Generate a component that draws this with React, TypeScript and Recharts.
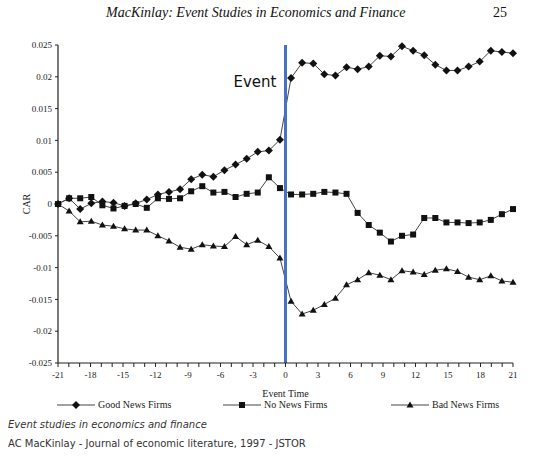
import { Line, LineChart, ReferenceLine, XAxis, YAxis } from "recharts";

// event days -21 .. 20 (CAR cumulated from zero)
const eventDays = [
  -21, -20, -19, -18, -17, -16, -15, -14, -13, -12, -11, -10, -9, -8, -7, -6, -5, -4, -3, -2, -1,
  0, 1, 2, 3, 4, 5, 6, 7, 8, 9, 10, 11, 12, 13, 14, 15, 16, 17, 18, 19, 20,
];

const goodNews = [
  0, 0.0009, -0.0008, 0.0001, 0.0004, 0.0002, -0.0003, 0.0001, 0.0007, 0.0015, 0.0019, 0.0023,
  0.0039, 0.0046, 0.0043, 0.0053, 0.0062, 0.0071, 0.0082, 0.0084, 0.0101,
  0.0198, 0.0222, 0.0221, 0.0204, 0.0202, 0.0215, 0.0212, 0.0216, 0.0233, 0.0232, 0.0248,
  0.0241, 0.0234, 0.0219, 0.021, 0.021, 0.0216, 0.0224, 0.0241, 0.0239, 0.0237,
];

const noNews = [
  0, 0.0009, 0.0009, 0.0011, -0.0002, -0.0007, -0.0003, 0.0, -0.0006, 0.0009, 0.0008, 0.0009,
  0.002, 0.0028, 0.0018, 0.0019, 0.0011, 0.0016, 0.0018, 0.0042, 0.0025,
  0.0015, 0.0015, 0.0016, 0.0019, 0.0018, 0.0016, -0.0014, -0.0033, -0.0045, -0.0059, -0.005,
  -0.0048, -0.0022, -0.0022, -0.0029, -0.0029, -0.003, -0.0029, -0.0025, -0.0016, -0.0008,
];

const badNews = [
  0, -0.0011, -0.0028, -0.0027, -0.0033, -0.0035, -0.0039, -0.0041, -0.0041, -0.005, -0.0058,
  -0.0068, -0.0071, -0.0064, -0.0066, -0.0067, -0.0051, -0.0064, -0.0057, -0.0067, -0.0085,
  -0.0153, -0.0173, -0.0167, -0.0158, -0.0148, -0.0127, -0.0119, -0.0108, -0.0112, -0.0119,
  -0.0105, -0.0107, -0.0111, -0.0104, -0.0102, -0.0106, -0.0115, -0.0119, -0.0113, -0.0121,
  -0.0123,
];

const xTicks = [
  -21, -20, -19, -18, -17, -16, -15, -14, -13, -12, -11, -10, -9, -8, -7, -6, -5, -4, -3, -2, -1,
  0, 1, 2, 3, 4, 5, 6, 7, 8, 9, 10, 11, 12, 13, 14, 15, 16, 17, 18, 19, 20, 21,
];
const yTicks = [
  0.025, 0.02, 0.015, 0.01, 0.005, 0, -0.005, -0.01, -0.015, -0.02, -0.025,
];

const data = eventDays.map((t, i) => ({
  t,
  good: goodNews[i],
  none: noNews[i],
  bad: badNews[i],
}));

const SERIF = "'Liberation Serif', 'DejaVu Serif', serif";
const SANS = "'DejaVu Sans', sans-serif";
const INK = "#1a1a1a";

const diamond = (p: any) => (
  <path
    key={`g-${p.index}`}
    d={`M${p.cx},${p.cy - 4}L${p.cx + 4},${p.cy}L${p.cx},${p.cy + 4}L${p.cx - 4},${p.cy}Z`}
    fill="#111"
  />
);
const square = (p: any) => (
  <rect key={`n-${p.index}`} x={p.cx - 3} y={p.cy - 3} width={6} height={6} fill="#111" />
);
const triangle = (p: any) => (
  <path
    key={`b-${p.index}`}
    d={`M${p.cx},${p.cy - 3.5}L${p.cx + 3.5},${p.cy + 2.5}L${p.cx - 3.5},${p.cy + 2.5}Z`}
    fill="#111"
  />
);

function LegendItem({ left, label, shape }: { left: number; label: string; shape: string }) {
  return (
    <div style={{ position: "absolute", left, top: 0, display: "flex", alignItems: "center" }}>
      <svg width={40} height={10}>
        <line x1={0} y1={5} x2={38} y2={5} stroke="#444" strokeWidth={1} />
        {shape === "diamond" && <path d="M19,1L23,5L19,9L15,5Z" fill="#111" />}
        {shape === "square" && <rect x={16} y={2} width={6} height={6} fill="#111" />}
        {shape === "triangle" && <path d="M19,1.5L22.5,7.5L15.5,7.5Z" fill="#111" />}
      </svg>
      <span style={{ fontFamily: SERIF, fontSize: 10, color: INK, marginLeft: 1 }}>{label}</span>
    </div>
  );
}

export default function App() {
  return (
    <div
      style={{
        position: "absolute",
        left: 0,
        top: 0,
        width: 535,
        height: 458,
        background: "#fff",
        overflow: "hidden",
      }}
    >
      <div
        style={{
          position: "absolute",
          left: 106,
          top: 5,
          fontFamily: SERIF,
          fontStyle: "italic",
          fontSize: 14,
          color: "#111",
          whiteSpace: "nowrap",
        }}
      >
        MacKinlay: Event Studies in Economics and Finance
      </div>
      <div
        style={{
          position: "absolute",
          left: 493,
          top: 5,
          fontFamily: SERIF,
          fontSize: 14,
          color: "#111",
        }}
      >
        25
      </div>

      <div style={{ position: "absolute", left: 0, top: 0 }}>
        <LineChart
          width={535}
          height={458}
          data={data}
          margin={{ top: 45, right: 22, left: 8, bottom: 57 }}
        >
          <XAxis
            xAxisId="d"
            type="number"
            dataKey="t"
            domain={[-21, 20]}
            orientation="top"
            height={0}
            hide
          />
          <XAxis
            xAxisId="t"
            type="number"
            dataKey="t"
            domain={[-21, 21]}
            ticks={xTicks}
            interval={0}
            tickFormatter={(v: number) => (v % 3 === 0 ? String(v) : "")}
            tickSize={4}
            tickMargin={5}
            height={38}
            axisLine={{ stroke: "#222", strokeWidth: 1.2 }}
            tickLine={{ stroke: "#222" }}
            tick={{ fontFamily: SERIF, fontSize: 9, fill: INK }}
            label={{
              value: "Event Time",
              position: "insideBottom",
              offset: 4,
              style: { fontFamily: SERIF, fontSize: 10, fill: INK },
            }}
          />
          <YAxis
            type="number"
            domain={[-0.025, 0.025]}
            ticks={yTicks}
            interval={0}
            width={50}
            tickSize={3}
            tickMargin={3}
            axisLine={{ stroke: "#222", strokeWidth: 1.2 }}
            tickLine={{ stroke: "#222" }}
            tick={{ fontFamily: SERIF, fontSize: 9, fill: INK }}
            label={{
              value: "CAR",
              angle: -90,
              position: "insideLeft",
              offset: 18,
              style: { fontFamily: SERIF, fontSize: 10, fill: INK, textAnchor: "middle" },
            }}
          />
          <Line
            xAxisId="d"
            dataKey="good"
            stroke="#444"
            strokeWidth={1}
            dot={diamond}
            activeDot={false}
            isAnimationActive={false}
          />
          <Line
            xAxisId="d"
            dataKey="none"
            stroke="#444"
            strokeWidth={1}
            dot={square}
            activeDot={false}
            isAnimationActive={false}
          />
          <Line
            xAxisId="d"
            dataKey="bad"
            stroke="#444"
            strokeWidth={1}
            dot={triangle}
            activeDot={false}
            isAnimationActive={false}
          />
          <ReferenceLine
            xAxisId="t"
            x={0}
            stroke="#4472C4"
            strokeWidth={3}
            label={(p: any) => (
              <text
                x={p.viewBox.x - 9}
                y={p.viewBox.y + 42}
                textAnchor="end"
                fontFamily={SANS}
                fontSize={15}
                fill="#111"
              >
                Event
              </text>
            )}
          />
        </LineChart>
      </div>

      <div style={{ position: "absolute", left: 0, top: 399, width: 535, height: 12 }}>
        <LegendItem left={57} label="Good News Firms" shape="diamond" />
        <LegendItem left={223} label="No News Firms" shape="square" />
        <LegendItem left={391} label="Bad News Firms" shape="triangle" />
      </div>

      <div
        style={{
          position: "absolute",
          left: 8,
          top: 419,
          fontFamily: SANS,
          fontStyle: "italic",
          fontSize: 10,
          color: "#333",
          whiteSpace: "nowrap",
        }}
      >
        Event studies in economics and finance
      </div>
      <div
        style={{
          position: "absolute",
          left: 8,
          top: 438,
          fontFamily: SANS,
          fontSize: 10,
          color: "#333",
          whiteSpace: "nowrap",
        }}
      >
        AC MacKinlay - Journal of economic literature, 1997 - JSTOR
      </div>
    </div>
  );
}
